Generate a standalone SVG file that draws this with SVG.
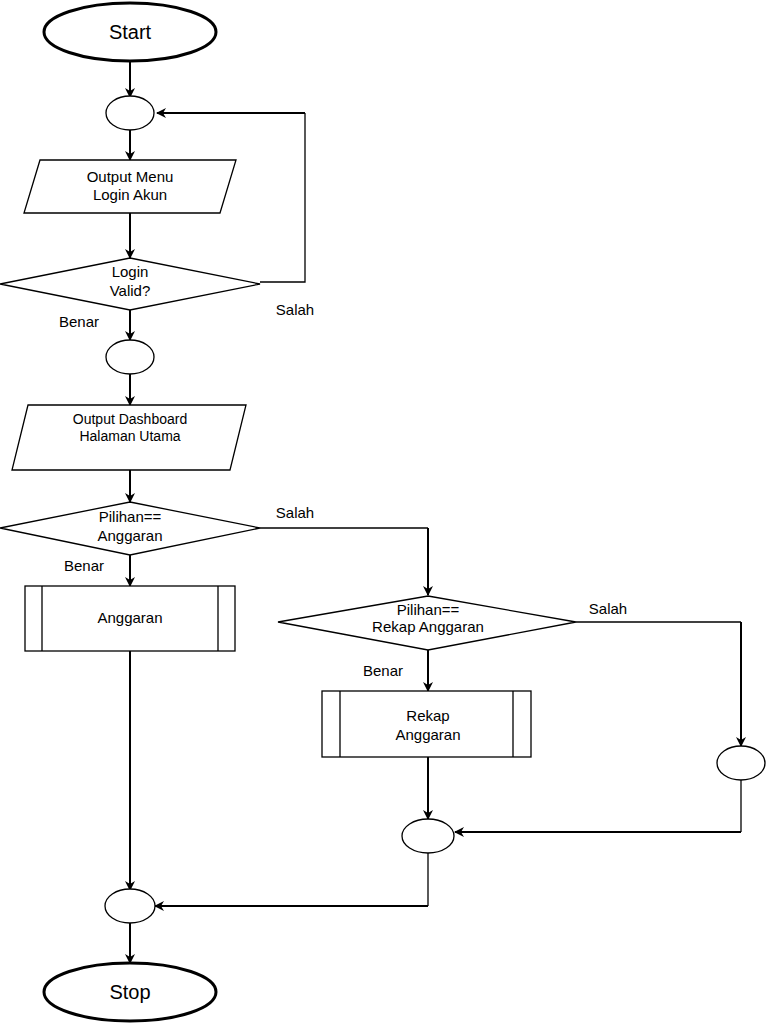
<svg xmlns="http://www.w3.org/2000/svg" width="768" height="1024" viewBox="0 0 768 1024">
<defs>
<marker id="ar" markerWidth="10" markerHeight="10" refX="9" refY="5" orient="auto" markerUnits="userSpaceOnUse"><path d="M0,0 L10,5 L0,10 L3,5 Z" fill="#000"/></marker>
</defs>
<style>
.s{fill:#fff;stroke:#000;stroke-width:1.3}
.t{font-family:"Liberation Sans",Arial,sans-serif;font-size:15px;fill:#000;text-anchor:middle}
.c{fill:none;stroke:#000;stroke-width:1.3}
.a{fill:none;stroke:#000;stroke-width:2;marker-end:url(#ar)}
</style>
<rect width="768" height="1024" fill="#fff"/>
<g id="connectors">
<path class="a" d="M130,62 V97"/>
<path class="a" d="M130,130 V160"/>
<path class="a" d="M130,213 V258"/>
<path class="c" d="M260,282 H305 V113"/><path class="a" d="M305,113 H157"/>
<path class="a" d="M130,310 V340"/>
<path class="a" d="M130,374 V405"/>
<path class="a" d="M130,470 V502"/>
<path class="c" d="M260,528 H428"/><path class="a" d="M428,528 V595"/>
<path class="a" d="M130,555 V586"/>
<path class="a" d="M130,651 V890"/>
<path class="c" d="M576,622 H741"/><path class="a" d="M741,622 V746"/>
<path class="a" d="M428,650 V691"/>
<path class="a" d="M428,757 V819"/>
<path class="c" d="M741,780 V832"/><path class="a" d="M741,832 H455"/>
<path class="c" d="M428,853 V906"/><path class="a" d="M428,906 H155"/>
<path class="a" d="M130,923 V963"/>
<text class="t" x="295" y="315">Salah</text>
<text class="t" x="79" y="327">Benar</text>
<text class="t" x="295" y="518">Salah</text>
<text class="t" x="84" y="571">Benar</text>
<text class="t" x="608" y="614">Salah</text>
<text class="t" x="383" y="676">Benar</text>
</g>
<g id="start"><ellipse class="s" style="stroke-width:3" cx="130" cy="32" rx="86" ry="29"/><text class="t" style="font-size:20px" x="130" y="39">Start</text></g>
<g id="c1"><ellipse class="s" cx="130" cy="113" rx="24" ry="17"/></g>
<g id="menu"><polygon class="s" points="40,160 236,160 220,213 24,213"/><text class="t" x="130" y="182">Output Menu</text><text class="t" x="130" y="200">Login Akun</text></g>
<g id="login"><polygon class="s" points="130,258 260,284 130,310 0,284"/><text class="t" x="130" y="277">Login</text><text class="t" x="130" y="296">Valid?</text></g>
<g id="c2"><ellipse class="s" cx="130" cy="357" rx="24" ry="17"/></g>
<g id="dash"><polygon class="s" points="28,405 246,405 230,470 12,470"/><text class="t" style="font-size:14px" x="130" y="424">Output Dashboard</text><text class="t" style="font-size:14px" x="130" y="441">Halaman Utama</text></g>
<g id="d2"><polygon class="s" points="130,502 260,528 130,555 0,528"/><text class="t" x="130" y="522">Pilihan==</text><text class="t" x="130" y="541">Anggaran</text></g>
<g id="anggaran"><rect class="s" x="25" y="586" width="210" height="65"/><path class="c" d="M42,586 V651 M218,586 V651"/><text class="t" x="130" y="623">Anggaran</text></g>
<g id="d3"><polygon class="s" points="428,596 576,622 428,650 278,622"/><text class="t" x="428" y="615">Pilihan==</text><text class="t" x="428" y="632">Rekap Anggaran</text></g>
<g id="rekap"><rect class="s" x="322" y="691" width="209" height="66"/><path class="c" d="M340,691 V757 M513,691 V757"/><text class="t" x="428" y="721">Rekap</text><text class="t" x="428" y="740">Anggaran</text></g>
<g id="c3"><ellipse class="s" cx="741" cy="763" rx="24" ry="17"/></g>
<g id="c4"><ellipse class="s" cx="428" cy="836" rx="26" ry="17"/></g>
<g id="c5"><ellipse class="s" cx="130" cy="906" rx="25" ry="17"/></g>
<g id="stop"><ellipse class="s" style="stroke-width:3" cx="130" cy="992" rx="86" ry="29"/><text class="t" style="font-size:20px" x="130" y="999">Stop</text></g>
</svg>
